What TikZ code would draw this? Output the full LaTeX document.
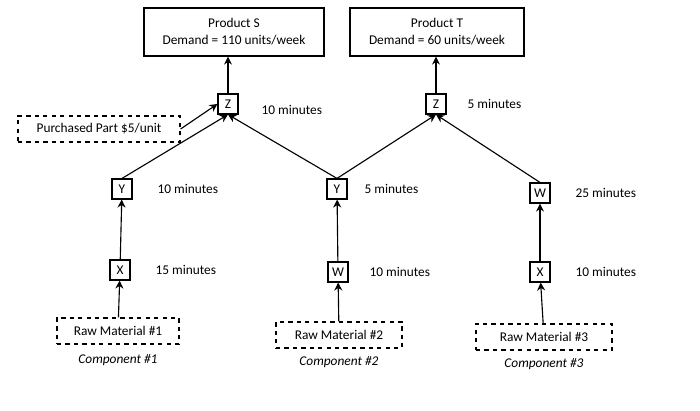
\documentclass[tikz,border=0pt]{standalone}
\usepackage{fontspec}
\setmainfont{Carlito}
\usetikzlibrary{positioning, arrows.meta, calc}

\begin{document}
\begin{tikzpicture}[x=0.025cm, y=-0.025cm,
        every node/.style={font=\fontsize{9.5}{12}\selectfont},
        product/.style={draw, thick, rectangle, minimum width=4.5cm, minimum height=1.2cm, align=center},
        part/.style={draw, thick, rectangle, minimum size=0.5cm, inner sep=0pt},
        raw/.style={draw, thick, dashed, rectangle, minimum height=0.65cm, align=center},
        arrow/.style={-{Stealth[length=2mm, width=2mm]}, thick}
      ]
      \useasboundingbox (0,0) rectangle (700,411);

      % finished products
      \node[product] (prods) at (234,32) {Product S\\Demand = 110 units/week};
      \node[product, minimum width=4.35cm] (prodt) at (437,32) {Product T\\Demand = 60 units/week};

      % final assembly
      \node[part] (zs) at (228,104) {Z};
      \node[right=0.45cm of zs, yshift=-4pt] {10 minutes};
      \node[part] (zt) at (436,104) {Z};
      \node[right=0.4cm of zt] {5 minutes};

      \node[raw, minimum width=4.05cm] (purch) at (99,129) {Purchased Part \$5/unit};

      % sub assemblies
      \node[part] (yl) at (122,189) {Y};
      \node[right=0.5cm of yl] {10 minutes};
      \node[part] (ym) at (337,189) {Y};
      \node[right=0.3cm of ym] {5 minutes};
      \node[part] (wr) at (540,193) {W};
      \node[right=0.5cm of wr] {25 minutes};

      \node[part] (xl) at (120,270) {X};
      \node[right=0.5cm of xl] {15 minutes};
      \node[part] (wm) at (338,272) {W};
      \node[right=0.4cm of wm] {10 minutes};
      \node[part] (xr) at (540,272) {X};
      \node[right=0.5cm of xr] {10 minutes};

      % raw materials
      \node[raw, minimum width=3.05cm] (raw1) at (118,331) {Raw Material \#1};
      \node[below=0.12cm of raw1] {\itshape Component \#1};
      \node[raw, minimum width=3.15cm] (raw2) at (339,335) {Raw Material \#2};
      \node[below=0.08cm of raw2] {\itshape Component \#2};
      \node[raw, minimum width=3.4cm] (raw3) at (544,337) {Raw Material \#3};
      \node[below=0.08cm of raw3] {\itshape Component \#3};

      % edges
      \draw[arrow] (zs) -- (zs |- prods.south);
      \draw[arrow] (zt) -- (zt |- prodt.south);
      \draw[arrow] (purch.east) -- (zs.west);
      \draw[arrow] (yl.north) -- (zs.south);
      \draw[arrow] (ym.north) -- (zs.south);
      \draw[arrow] (ym.north) -- (zt.south);
      \draw[arrow] (wr.north) -- (zt.south);
      \draw[arrow] (xl) -- (yl);
      \draw[arrow] (wm) -- (ym);
      \draw[arrow] (xr) -- (wr);
      \draw[arrow] (raw1) -- (xl);
      \draw[arrow] (raw2) -- (wm);
      \draw[arrow] (raw3) -- (xr);
\end{tikzpicture}
\end{document}
